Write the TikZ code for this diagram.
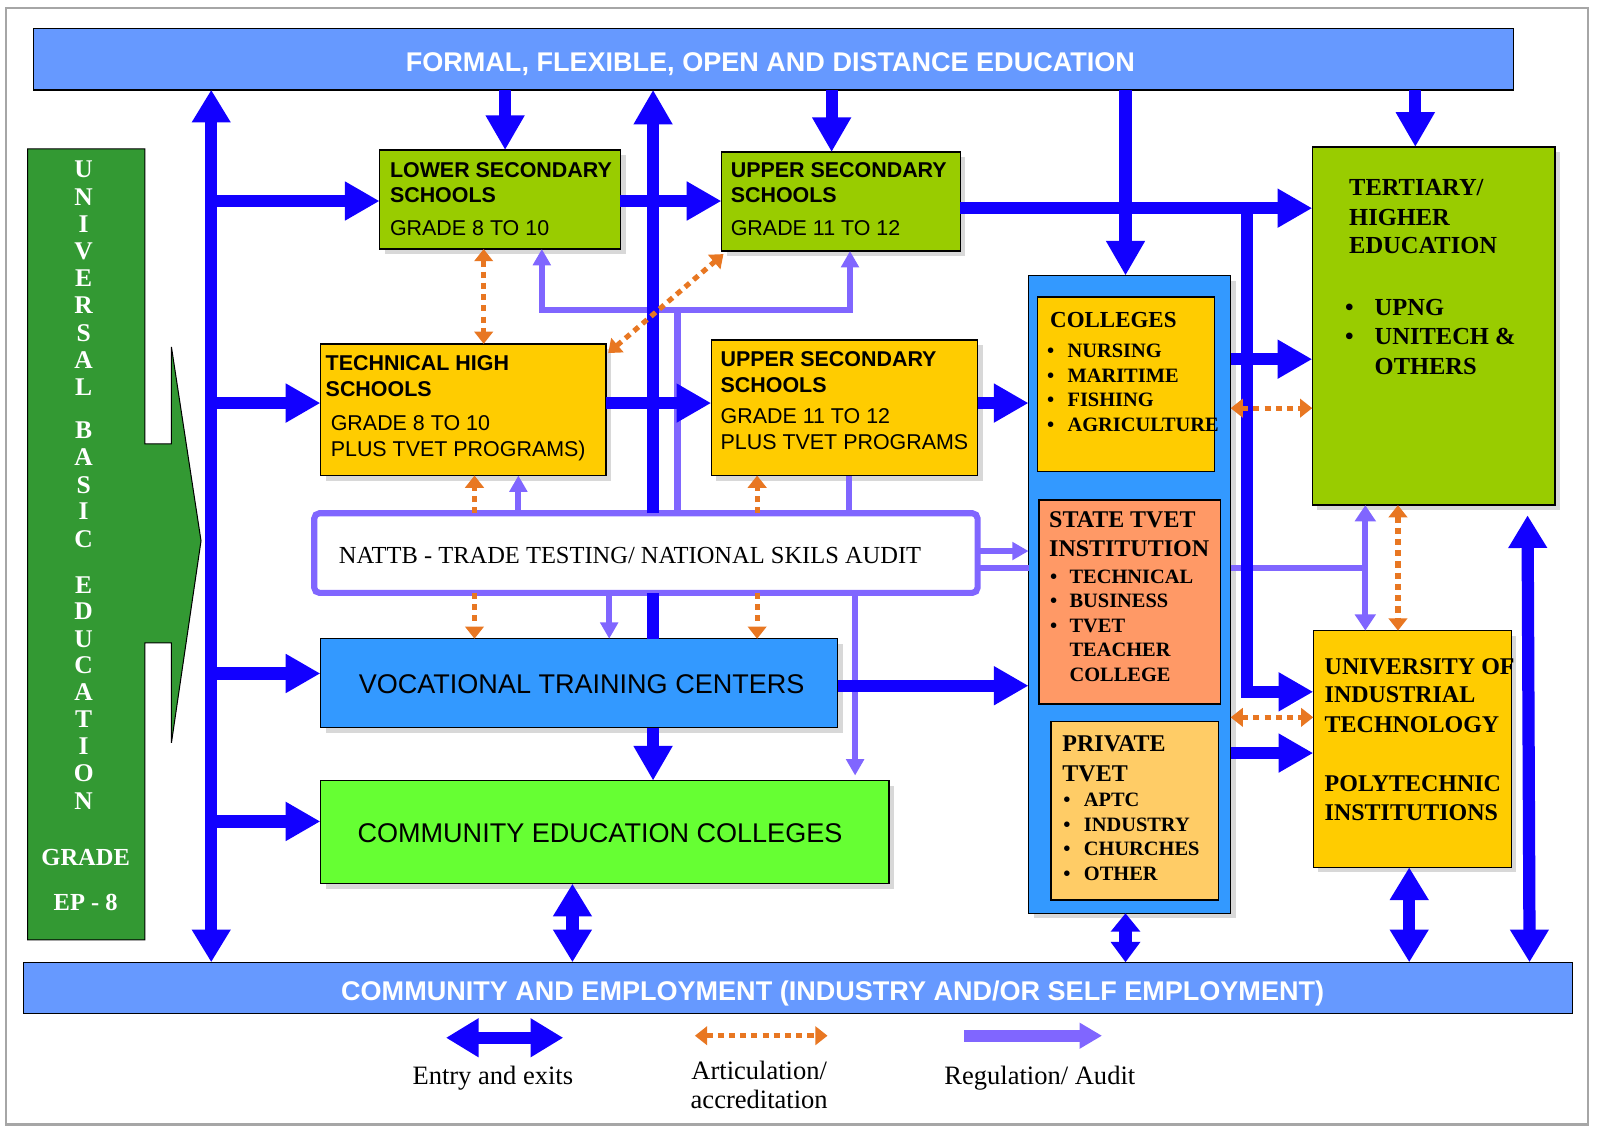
\documentclass[tikz,border=0pt]{standalone}
\usepackage{fontspec}
\setmainfont{Liberation Serif}
\setsansfont{Liberation Sans}
\usetikzlibrary{arrows.meta,shadows}
\definecolor{eblue}{RGB}{18,0,255}
\definecolor{rpurp}{RGB}{128,102,255}
\definecolor{aorange}{RGB}{232,119,34}
\definecolor{barblue}{RGB}{102,153,255}
\definecolor{lgreen}{RGB}{153,204,0}
\definecolor{syellow}{RGB}{255,204,0}
\definecolor{vblue}{RGB}{51,153,255}
\definecolor{cgreen}{RGB}{102,255,51}
\definecolor{salmon}{RGB}{255,153,102}
\definecolor{lorange}{RGB}{255,204,102}
\definecolor{dgreen}{RGB}{51,153,51}
\newcommand{\fsz}[1]{\fontsize{#1}{#1}\selectfont}
\begin{document}
\begin{tikzpicture}[x=1pt,y=-1pt,
  shbox/.style={draw=black, line width=1.4pt, inner sep=0pt, outer sep=0pt,
     drop shadow={shadow xshift=5pt, shadow yshift=-5pt, opacity=0.3}},
  plbox/.style={draw=black, line width=1.4pt, inner sep=0pt, outer sep=0pt},
  stxt/.style={inner sep=0pt, anchor=base west, font=\sffamily\fsz{21}},
  sbtxt/.style={inner sep=0pt, anchor=base west, font=\sffamily\bfseries\fsz{21}},
  bartxt/.style={inner sep=0pt, anchor=base, text=white, font=\sffamily\bfseries\fsz{26.5}},
  bigtxt/.style={inner sep=0pt, anchor=base, font=\sffamily\fsz{26.5}},
  hbtxt/.style={inner sep=0pt, anchor=base west, font=\bfseries\fsz{23.5}},
  ibtxt/.style={inner sep=0pt, anchor=base west, font=\bfseries\fsz{20}},
  coltxt/.style={inner sep=0pt, anchor=base, text=white, font=\bfseries\fsz{25}},
  legtxt/.style={inner sep=0pt, anchor=base, font=\fsz{26}},
  barr/.style={draw=eblue, line width=12pt, -{Triangle[length=34pt,width=36pt]}},
  bdbl/.style={draw=eblue, line width=12pt, {Triangle[length=32pt,width=36pt]}-{Triangle[length=32pt,width=36pt]}},
  bdbls/.style={draw=eblue, line width=12pt, {Triangle[length=18pt,width=28pt]}-{Triangle[length=20pt,width=28pt]}},
  pline/.style={draw=rpurp, line width=6pt},
  parr/.style={pline, -{Triangle[length=16pt,width=17pt]}},
  pdbl/.style={pline, {Triangle[length=16pt,width=20pt]}-{Triangle[length=16pt,width=20pt]}},
  oline/.style={draw=aorange, line width=5pt, dash pattern=on 6pt off 5pt},
  oarr/.style={oline, -{Triangle[length=12pt,width=18pt]}},
  odbl/.style={oline, {Triangle[length=12pt,width=18pt]}-{Triangle[length=12pt,width=18pt]}},
]
\useasboundingbox (0,0) rectangle (1568,1108);
\fill[white] (0,0) rectangle (1568,1108);
\draw[gray!70, line width=2pt] (6,8) rectangle (1556,1102);

% ---------- bars ----------
\node[plbox, fill=barblue, minimum width=1450pt, minimum height=60pt] (top) at (758,58) {};
\node[bartxt] (toptxt) at (755,70.5) {FORMAL, FLEXIBLE, OPEN AND DISTANCE EDUCATION};
\node[plbox, fill=barblue, minimum width=1518pt, minimum height=50pt] (bot) at (782,968) {};
\node[bartxt] (bottxt) at (816,980.5) {COMMUNITY AND EMPLOYMENT (INDUSTRY AND/OR SELF EMPLOYMENT)};

% ---------- universal basic education column ----------
\draw[fill=dgreen, line width=1pt] (27,146) -- (142,146) -- (142,435) -- (168,435) -- (168,340)
  -- (197,530) -- (168,728) -- (168,630) -- (142,630) -- (142,921) -- (27,921) -- cycle;
\foreach \l/\yy in {U/166,N/193,I/220,V/246,E/273,R/299,S/326,A/353,L/379,
                    B/422,A/448,S/475,I/501,C/528,
                    E/573,D/599,U/626,C/652,A/678,T/705,I/731,O/758,N/785}
  \node[coltxt] (ube\yy) at (82,\yy+8.2) {\l};
\node[coltxt, font=\bfseries\fsz{24}] (grade) at (84,847.9) {GRADE};
\node[coltxt, font=\bfseries\fsz{24}] (ep8) at (84,891.9) {EP - 8};

% ---------- boxes ----------
\node[shbox, fill=lgreen, minimum width=236pt, minimum height=97pt] (lss) at (490,195.5) {};
\node[sbtxt] (lss1) at (382,173.5) {LOWER SECONDARY};
\node[sbtxt] (lss2) at (382,198.5) {SCHOOLS};
\node[stxt]  (lss3) at (382,230.5) {GRADE 8 TO 10};

\node[shbox, fill=lgreen, minimum width=234pt, minimum height=97pt] (uss) at (824,197.5) {};
\node[sbtxt] (uss1) at (716,173.5) {UPPER SECONDARY};
\node[sbtxt] (uss2) at (716,198.5) {SCHOOLS};
\node[stxt]  (uss3) at (716,230.5) {GRADE 11 TO 12};

\node[shbox, fill=syellow, minimum width=280pt, minimum height=129pt] (ths) at (454,401.5) {};
\node[sbtxt] (ths1) at (319,363.5) {TECHNICAL HIGH};
\node[sbtxt] (ths2) at (319,388.5) {SCHOOLS};
\node[stxt]  (ths3) at (324,421.5) {GRADE 8 TO 10};
\node[stxt]  (ths4) at (324,447.5) {PLUS TVET PROGRAMS)};

\node[shbox, fill=syellow, minimum width=261pt, minimum height=133pt] (usy) at (827.5,399.5) {};
\node[sbtxt] (usy1) at (706,359.5) {UPPER SECONDARY};
\node[sbtxt] (usy2) at (706,384.5) {SCHOOLS};
\node[stxt]  (usy3) at (706,415.5) {GRADE 11 TO 12};
\node[stxt]  (usy4) at (706,440.5) {PLUS TVET PROGRAMS};

\node[draw=rpurp, line width=6pt, rounded corners=5pt, fill=white, inner sep=0pt, outer sep=0pt,
      minimum width=650pt, minimum height=78pt] (nattb) at (633,542) {};
\node[inner sep=0pt, anchor=base west, font=\fsz{24}] (nattbt) at (332,552) {NATTB - TRADE TESTING/ NATIONAL SKILS AUDIT};

\node[shbox, fill=vblue, minimum width=507pt, minimum height=87pt] (voc) at (567.5,669.5) {};
\node[bigtxt] (voct) at (570,679.5) {VOCATIONAL TRAINING CENTERS};

\node[shbox, fill=cgreen, minimum width=557pt, minimum height=101pt] (cec) at (592.5,815.5) {};
\node[bigtxt] (cect) at (588,825.5) {COMMUNITY EDUCATION COLLEGES};

% container
\node[shbox, fill=vblue, minimum width=198pt, minimum height=625pt] (cont) at (1107,582.5) {};
\node[plbox, fill=syellow, minimum width=173pt, minimum height=171pt] (col) at (1103.5,376.5) {};
\node[hbtxt, font=\bfseries\fsz{22.5}] (col0) at (1029,321.4) {COLLEGES};
\foreach \t/\yy [count=\i] in {NURSING/344,MARITIME/368,FISHING/392,AGRICULTURE/416}{
  \node[ibtxt] (colb\i) at (1026,\yy+6.5) {\textbullet};
  \node[ibtxt] (coli\i) at (1046,\yy+6.5) {\t};
}
\node[plbox, fill=salmon, minimum width=178pt, minimum height=200pt] (stv) at (1107,590) {};
\node[hbtxt] (stv1) at (1028,516.7) {STATE TVET};
\node[hbtxt] (stv2) at (1028,545.7) {INSTITUTION};
\foreach \t/\yy [count=\i] in {TECHNICAL/565,BUSINESS/589,TVET/613}{
  \node[ibtxt] (stvb\i) at (1029,\yy+6.5) {\textbullet};
  \node[ibtxt] (stvi\i) at (1048,\yy+6.5) {\t};
}
\node[ibtxt] (stvi4) at (1048,643.5) {TEACHER};
\node[ibtxt] (stvi5) at (1048,667.5) {COLLEGE};

\node[plbox, fill=lorange, minimum width=164pt, minimum height=175pt] (prv) at (1112,794.5) {};
\node[hbtxt] (prv1) at (1041,736.7) {PRIVATE};
\node[hbtxt] (prv2) at (1041,765.7) {TVET};
\foreach \t/\yy [count=\i] in {APTC/784,INDUSTRY/808,CHURCHES/832,OTHER/856}{
  \node[ibtxt] (prvb\i) at (1042,\yy+6.5) {\textbullet};
  \node[ibtxt] (prvi\i) at (1062,\yy+6.5) {\t};
}

% tertiary
\node[shbox, fill=lgreen, minimum width=238pt, minimum height=351pt] (ter) at (1405,319.5) {};
\node[hbtxt, font=\bfseries\fsz{24}] (ter1) at (1322,191.9) {TERTIARY/};
\node[hbtxt, font=\bfseries\fsz{24}] (ter2) at (1322,220.9) {HIGHER};
\node[hbtxt, font=\bfseries\fsz{24}] (ter3) at (1322,248.9) {EDUCATION};
\node[hbtxt, font=\bfseries\fsz{24}] (terb1) at (1318,308.9) {\textbullet};
\node[hbtxt, font=\bfseries\fsz{24}] (teri1) at (1347,308.9) {UPNG};
\node[hbtxt, font=\bfseries\fsz{24}] (terb2) at (1318,337.9) {\textbullet};
\node[hbtxt, font=\bfseries\fsz{24}] (teri2) at (1347,337.9) {UNITECH \&};
\node[hbtxt, font=\bfseries\fsz{24}] (teri3) at (1347,366.9) {OTHERS};

% university
\node[shbox, fill=syellow, minimum width=194pt, minimum height=232pt] (uni) at (1384,734) {};
\node[hbtxt] (uni1) at (1298,660.7) {UNIVERSITY OF};
\node[hbtxt] (uni2) at (1298,688.7) {INDUSTRIAL};
\node[hbtxt] (uni3) at (1298,717.7) {TECHNOLOGY};
\node[hbtxt] (uni4) at (1298,775.7) {POLYTECHNIC};
\node[hbtxt] (uni5) at (1298,803.7) {INSTITUTIONS};

% ---------- regulation / audit (purple) ----------
\draw[parr, line join=miter] (664,0 |- nattb.north) -- (664,304) -| (531,0 |- lss.south);
\draw[parr, line join=miter] (664,304) -| (833,0 |- uss.south);
\draw[parr] (508,0 |- nattb.north) -- (508,0 |- ths.south);
\draw[pline] (832,0 |- nattb.north) -- (832,0 |- usy.south);
\draw[parr] (nattb.east |- 0,540) -- (cont.west |- 0,540);
\draw[pline] (nattb.east |- 0,557) -- (cont.west |- 0,557);
\draw[pline] (cont.east |- 0,557) -- (1338,557);
\draw[pdbl] (1338,0 |- ter.south) -- (1338,0 |- uni.north);
\draw[parr] (597,0 |- nattb.south) -- (597,0 |- voc.north);
\coordinate (cecreg) at (838,760);
\draw[parr] (838,0 |- nattb.south) -- (cecreg);

% ---------- entry and exits (blue) ----------
\coordinate (trunk) at (207,0);
\draw[bdbl] (trunk |- top.south) -- (trunk |- bot.north);
\draw[barr] (trunk |- 0,197) -- (lss.west |- 0,197);
\draw[barr] (trunk |- 0,395) -- (ths.west |- 0,395);
\draw[barr] (trunk |- 0,660) -- (voc.west |- 0,660);
\draw[barr] (trunk |- 0,805) -- (cec.west |- 0,805);
\draw[barr] (495,0 |- top.south) -- (495,0 |- lss.north);
\draw[barr] (815,0 |- top.south) -- (815,0 |- uss.north);
\draw[draw=eblue, line width=12pt] (640,0 |- voc.north) -- (640,0 |- nattb.south);
\draw[barr] (640,0 |- nattb.north) -- (640,0 |- top.south);
\draw[barr] (640,0 |- voc.south) -- (640,0 |- cec.north);
\draw[barr] (lss.east |- 0,197) -- (uss.west |- 0,197);
\draw[barr] (uss.east |- 0,204) -- (ter.west |- 0,204);
\draw[barr] (1103,0 |- top.south) -- (1103,0 |- cont.north);
\coordinate (elbow) at (1222,204);
\draw[barr, line join=miter] (elbow) -- (1222,678) -- (uni.west |- 0,678);
\draw[barr] (1387,0 |- top.south) -- (1387,0 |- ter.north);
\draw[barr] (ths.east |- 0,395) -- (usy.west |- 0,395);
\draw[barr] (usy.east |- 0,395) -- (cont.west |- 0,395);
\draw[barr] (cont.east |- 0,352) -- (ter.west |- 0,352);
\draw[barr] (cont.east |- 0,738) -- (uni.west |- 0,738);
\draw[barr] (voc.east |- 0,672) -- (cont.west |- 0,672);
\draw[bdbl] (561,0 |- cec.south) -- (561,0 |- bot.north);
\draw[bdbls] (1103,0 |- cont.south) -- (1103,0 |- bot.north);
\draw[bdbl] (1381,0 |- uni.south) -- (1381,0 |- bot.north);
\coordinate (rtop) at (1497,505);
\draw[bdbl] (rtop) -- (1499,0 |- bot.north);

% ---------- articulation (orange) ----------
\draw[odbl] (474,0 |- lss.south) -- (474,0 |- ths.north);
\draw[odbl] ([xshift=2pt,yshift=-9pt]ths.north east) -- ([xshift=2pt,yshift=-3pt]uss.south west);
\draw[oarr] (465,0 |- nattb.north) -- (465,0 |- ths.south);
\draw[oarr] (465,0 |- nattb.south) -- (465,0 |- voc.north);
\draw[oarr] (742,0 |- nattb.north) -- (742,0 |- usy.south);
\draw[oarr] (742,0 |- nattb.south) -- (742,0 |- voc.north);
\draw[odbl] (cont.east |- 0,400) -- (ter.west |- 0,400);
\draw[odbl] (cont.east |- 0,703) -- (uni.west |- 0,703);
\draw[odbl] (1370,0 |- ter.south) -- (1370,0 |- uni.north);

% ---------- legend ----------
\coordinate (lga) at (437,1017); \coordinate (lgb) at (552,1017);
\draw[bdbl] (lga) -- (lgb);
\node[legtxt] (lgt1) at (483,1063) {Entry and exits};
\coordinate (lgc) at (681,1015); \coordinate (lgd) at (811,1015);
\draw[odbl] (lgc) -- (lgd);
\node[legtxt] (lgt2) at (744,1058) {Articulation/};
\node[legtxt] (lgt3) at (744,1086) {accreditation};
\coordinate (lge) at (945,1015); \coordinate (lgf) at (1080,1015);
\draw[draw=rpurp, line width=12pt, -{Triangle[length=22pt,width=24pt]}] (lge) -- (lgf);
\node[legtxt] (lgt4) at (1019,1063) {Regulation/ Audit};
\end{tikzpicture}
\end{document}
